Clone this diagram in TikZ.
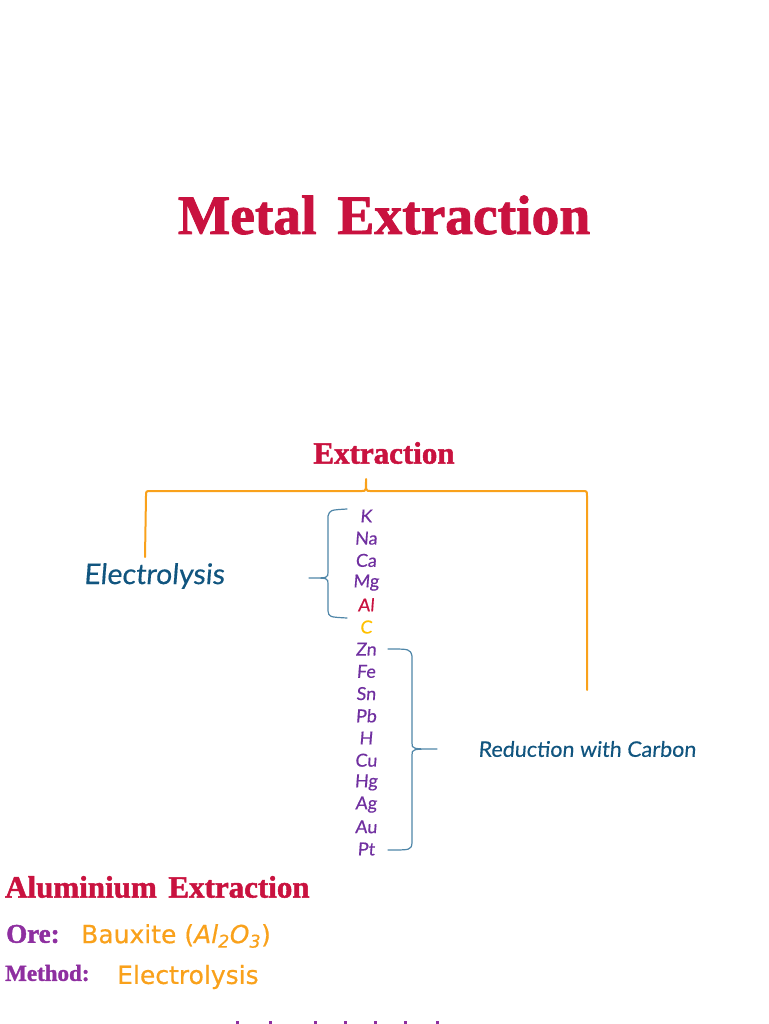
\documentclass[tikz,border=0pt]{standalone}
\usepackage{fontspec}
\setmainfont[BoldFeatures={FakeBold=1.6},WordSpace=1.5]{Liberation Serif}
\newfontfamily\handfont[FakeSlant=0.08,FakeBold=0.4]{Lato}
\newfontfamily\roundfont[FakeBold=0.5]{DejaVu Sans}
\definecolor{titlered}{HTML}{C9123F}
\definecolor{lineorange}{HTML}{F9A11B}
\definecolor{metalpurple}{HTML}{7030A0}
\definecolor{headpurple}{HTML}{8E2FA0}
\definecolor{handblue}{HTML}{11557F}
\definecolor{braceblue}{HTML}{4F86A8}
\definecolor{carbonyellow}{HTML}{FFC000}
\tikzset{
	head/.style={font=\bfseries\fontsize{#1}{#1}\selectfont,text=titlered,inner sep=0pt},
	sub/.style={font=\bfseries\fontsize{#1}{#1}\selectfont,text=headpurple,inner sep=0pt,anchor=west},
	answer/.style={font=\roundfont\fontsize{#1}{#1}\selectfont,text=lineorange,inner sep=0pt,anchor=west},
	hand/.style={font=\handfont\fontsize{#1}{#1}\selectfont,text=handblue,inner sep=0pt},
	metal/.style={font=\handfont\fontsize{18}{18}\selectfont,inner sep=0pt}
}
\begin{document}
\begin{tikzpicture}[x=1pt,y=-1pt,line join=round,line cap=round]
	\useasboundingbox (0,0) rectangle (768,1024);
	\node[head=55.5] (title) at (384,215) {Metal Extraction};
	\node[head=31] (extraction) at (384,453) {Extraction};
	\node[hand=28.5] (electrolysis) at (154,576) {Electrolysis};
	\node[hand=21.5] (reduction) at (587,749) {Reduction with Carbon};
	\foreach \m/\c [count=\i from 0] in {K/metalpurple,Na/metalpurple,Ca/metalpurple,Mg/metalpurple,Al/titlered,C/carbonyellow,Zn/metalpurple,Fe/metalpurple,Sn/metalpurple,Pb/metalpurple,H/metalpurple,Cu/metalpurple,Hg/metalpurple,Ag/metalpurple,Au/metalpurple,Pt/metalpurple}
	\node[metal,text=\c] (\m) at (366,{516+22.2*\i}) {\m};
	% orange bracket
	\coordinate (elecend) at (145,557);
	\coordinate (redend) at (587,690);
	\draw[lineorange,line width=2pt] (elecend)--(146,496) .. controls (146,491) .. (151,491)--(362,491) .. controls (366,491) .. (366,479) .. controls (366,491) .. (370,491)--(582,491) .. controls (587,491) .. (587,496)--(redend);
	% blue braces
	\coordinate (ktop) at (347,509);
	\coordinate (albot) at (347,618);
	\coordinate (ztop) at (388,649);
	\coordinate (pbot) at (388,850);
	\draw[braceblue,line width=1.2pt] (ktop) .. controls (330,510) .. (328,516)--(328,572) .. controls (328,578) .. (309,578) .. controls (328,578) .. (328,584)--(328,611) .. controls (329,617) .. (albot);
	\draw[braceblue,line width=1.2pt] (ztop) .. controls (410,649) .. (412,656)--(412,743) .. controls (412,749) .. (437,749) .. controls (412,749) .. (412,755)--(412,843) .. controls (411,850) .. (pbot);
	% lower block
	\node[head=31,anchor=west] (aluminium) at (5,887) {Aluminium Extraction};
	\node[sub=27] (ore) at (6,934) {Ore:};
	\node[answer=25] (bauxite) at (81,936) {Bauxite (\textit{Al\textsubscript{2}O\textsubscript{3}})};
	\node[sub=23] (method) at (5,973) {Method:};
	\node[answer=25] (elecanswer) at (117,977) {Electrolysis};
	% tops of the cut off line
	\foreach \x in {237,270,315,345,375,405,437}
	\fill[headpurple] (\x-1.5,1021) rectangle (\x+1.5,1024);
\end{tikzpicture}
\end{document}
